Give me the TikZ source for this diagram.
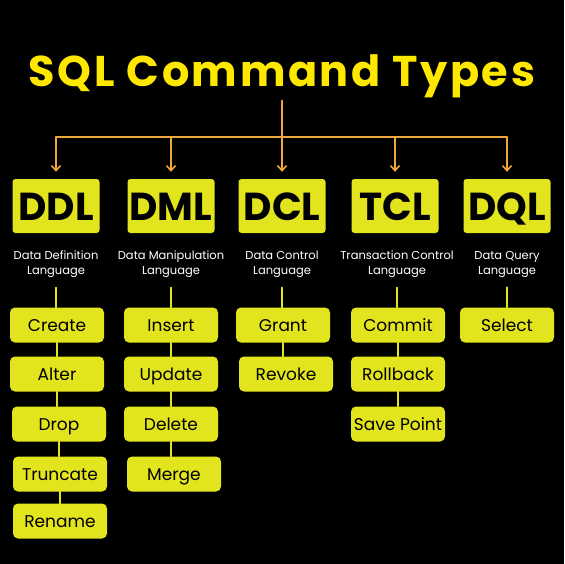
\documentclass[tikz,border=0pt]{standalone}
\usepackage{fontspec}
\setmainfont{Poppins}
\newfontfamily\titlefont[LetterSpace=6]{Poppins}
\usetikzlibrary{arrows.meta}
\definecolor{titleyellow}{RGB}{255,232,0}
\definecolor{boxyellow}{RGB}{226,228,30}
\definecolor{lineorange}{RGB}{240,168,60}
\tikzset{
  cmdhead/.style={fill=boxyellow, rounded corners=3pt, minimum width=87pt, minimum height=54pt,
    inner sep=0pt, text height=28pt, text depth=0pt, font=\fontsize{39}{39}\selectfont\bfseries},
  cmdsub/.style={text=white, align=center, inner sep=0pt, font=\fontsize{11.5}{15}\selectfont},
  cmdbox/.style={fill=boxyellow, rounded corners=5pt, minimum width=94pt, minimum height=35pt,
    inner sep=0pt, text height=12.5pt, text depth=0pt, font=\fontsize{17}{17}\selectfont},
  feed/.style={draw=lineorange, line width=1.6pt},
  link/.style={draw=boxyellow, line width=2pt}
}
\begin{document}
\begin{tikzpicture}[x=1pt, y=-1pt, >={Straight Barb[length=5pt,width=9pt]}, line cap=round]
\fill[black] (0,0) rectangle (564,564);
\useasboundingbox (0,0) rectangle (564,564);
\def\hy{206} % hàng tiêu đề nhóm
\def\sy{264} % hàng chú thích
\path
(282,87) node[anchor=base, text=titleyellow, font=\fontsize{43}{43}\titlefont\bfseries, inner sep=0pt] (title) {SQL Command Types}
(282,137) coordinate (hub)
(56,\hy) node[cmdhead] (ddl) {DDL}
(171,\hy) node[cmdhead] (dml) {DML}
(282,\hy) node[cmdhead] (dcl) {DCL}
(395,\hy) node[cmdhead] (tcl) {TCL}
(507,\hy) node[cmdhead] (dql) {DQL}
(56,\sy) node[cmdsub] (ddlname) {Data Definition\\Language}
(171,\sy) node[cmdsub] (dmlname) {Data Manipulation\\Language}
(282,\sy) node[cmdsub] (dclname) {Data Control\\Language}
(397,\sy) node[cmdsub] (tclname) {Transaction Control\\Language}
(507,\sy) node[cmdsub] (dqlname) {Data Query\\Language}
(57,325) node[cmdbox] (create) {Create}
(57,374) node[cmdbox] (alter) {Alter}
(59,424) node[cmdbox] (drop) {Drop}
(60,474) node[cmdbox] (truncate) {Truncate}
(60,521) node[cmdbox] (rename) {Rename}
(171,325) node[cmdbox] (insert) {Insert}
(171,374) node[cmdbox] (update) {Update}
(171,424) node[cmdbox] (delete) {Delete}
(174,474) node[cmdbox] (merge) {Merge}
(283,325) node[cmdbox] (grant) {Grant}
(286,374) node[cmdbox] (revoke) {Revoke}
(398,325) node[cmdbox] (commit) {Commit}
(398,374) node[cmdbox] (rollback) {Rollback}
(398,424) node[cmdbox] (savepoint) {Save Point}
(507,325) node[cmdbox] (select) {Select};
\draw[feed,shorten <=2pt] (title) -- (hub);
\draw[feed] (ddl |- hub) -- (dql |- hub);
\draw[feed,->,shorten >=7pt] (ddl |- hub) -- (ddl);
\draw[feed,->,shorten >=7pt] (dml |- hub) -- (dml);
\draw[feed,->,shorten >=7pt] (hub) -- (dcl);
\draw[feed,->,shorten >=7pt] (tcl |- hub) -- (tcl);
\draw[feed,->,shorten >=7pt] (dql |- hub) -- (dql);
\draw[link,shorten <=10pt] (ddlname) -- (ddlname |- create.north);
\draw[link,shorten <=10pt] (dmlname) -- (dmlname |- insert.north);
\draw[link,shorten <=10pt] (dclname) -- (dclname |- grant.north);
\draw[link,shorten <=10pt] (tclname) -- (tclname |- commit.north);
\draw[link,shorten <=10pt] (dqlname) -- (dqlname |- select.north);
\draw[link] (create) -- (create |- alter.north) (alter) -- (alter |- drop.north)
  (drop) -- (drop |- truncate.north) (truncate) -- (truncate |- rename.north);
\draw[link] (insert) -- (insert |- update.north) (update) -- (update |- delete.north)
  (delete) -- (delete |- merge.north);
\draw[link] (grant) -- (grant |- revoke.north);
\draw[link] (commit) -- (commit |- rollback.north) (rollback) -- (rollback |- savepoint.north);
\end{tikzpicture}
\end{document}
